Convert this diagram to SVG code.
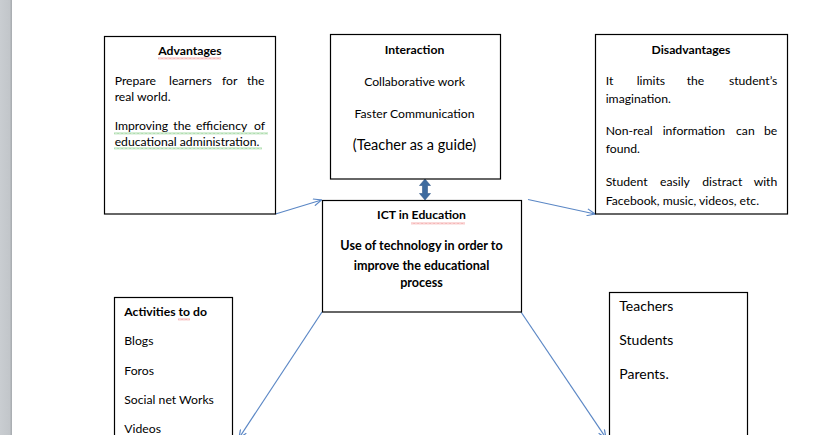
<svg xmlns="http://www.w3.org/2000/svg" width="828" height="435" viewBox="0 0 828 435">
<defs>
<style>
.box{fill:#fff;stroke:#000;stroke-width:1.2}
.t{font-family:Lato,"Liberation Sans",sans-serif;font-size:12.2px;fill:#000}
.b{font-weight:bold}
.c{text-anchor:middle}
.conn{stroke:#5b87c5;stroke-width:1.2;fill:none}
</style>
<linearGradient id="bar" x1="0" x2="1" y1="0" y2="0">
<stop offset="0" stop-color="#c9cdd1"/>
<stop offset="0.8" stop-color="#c2c6ca"/>
<stop offset="1" stop-color="#a4a8ac"/>
</linearGradient>
<marker id="ah" markerWidth="10" markerHeight="8" refX="9" refY="4" orient="auto" markerUnits="userSpaceOnUse">
<path d="M1,0.5 L9,4 L1,7.5" fill="none" stroke="#5b87c5" stroke-width="1.2"/>
</marker>
<pattern id="wr" width="4" height="3" patternUnits="userSpaceOnUse">
<path d="M0,2.5 L1,0.5 L2,2.5 L3,0.5 L4,2.5" fill="none" stroke="#e85050" stroke-width="0.6" stroke-dasharray="1 0.6"/>
</pattern>
<pattern id="wg" width="4" height="3" patternUnits="userSpaceOnUse">
<path d="M0,2.5 L1,0.5 L2,2.5 L3,0.5 L4,2.5" fill="none" stroke="#40ad40" stroke-width="0.6" stroke-dasharray="1 0.6"/>
</pattern>
</defs>
<rect width="828" height="435" fill="#fff"/>
<rect x="0" y="0" width="12" height="435" fill="url(#bar)"/>

<g id="connectors">
<line class="conn" x1="275.5" y1="214" x2="321.5" y2="200" marker-end="url(#ah)"/>
<line class="conn" x1="528" y1="199.5" x2="595" y2="214" marker-end="url(#ah)"/>
<line class="conn" x1="322" y1="312" x2="239" y2="438" marker-end="url(#ah)"/>
<line class="conn" x1="521" y1="312" x2="606" y2="438" marker-end="url(#ah)"/>
<path d="M425,179 L430.5,185.5 L427.5,185.5 L427.5,193.5 L430.5,193.5 L425,200 L419.5,193.5 L422.5,193.5 L422.5,185.5 L419.5,185.5 Z" fill="#3e6b9f" stroke="#34598a" stroke-width="0.6"/>
</g>

<g id="advantages">
<rect class="box" x="104.5" y="36.5" width="171" height="177.5"/>
<text class="t b c" x="190" y="55">Advantages</text>
<rect x="158" y="57" width="63" height="3" fill="url(#wr)"/>
<text class="t" y="85"><tspan x="114.7">Prepare</tspan><tspan x="169">learners</tspan><tspan x="222">for</tspan><tspan x="264.5" text-anchor="end">the</tspan></text>
<text class="t" x="114.7" y="101">real world.</text>
<text class="t" y="130"><tspan x="114.7">Improving</tspan><tspan x="173.3">the</tspan><tspan x="196">efficiency</tspan><tspan x="265" text-anchor="end">of</tspan></text>
<text class="t" x="114.7" y="146">educational administration.</text>
<rect x="114" y="132" width="154" height="3" fill="url(#wg)"/>
<rect x="114" y="147" width="148" height="3" fill="url(#wg)"/>
</g>

<g id="interaction">
<rect class="box" x="330.5" y="34.5" width="170" height="144.5"/>
<text class="t b c" x="414.5" y="54">Interaction</text>
<text class="t c" x="414.5" y="86">Collaborative work</text>
<text class="t c" x="414.5" y="118">Faster Communication</text>
<text class="t c" x="414.5" y="150" style="font-size:14.5px">(Teacher as a guide)</text>
</g>

<g id="ict">
<rect class="box" x="322.5" y="200.5" width="199" height="111.5"/>
<text class="t b c" x="421.5" y="219">ICT in Education</text>
<rect x="411" y="222" width="54" height="3" fill="url(#wr)"/>
<text class="t b c" x="421.5" y="250" style="font-size:12.6px">Use of technology in order to</text>
<text class="t b c" x="421.5" y="270" style="font-size:12.6px">improve the educational</text>
<text class="t b c" x="421.5" y="287" style="font-size:12.6px">process</text>
</g>

<g id="disadvantages">
<rect class="box" x="595.5" y="34.5" width="192" height="179.5"/>
<text class="t b c" x="691" y="53.5">Disadvantages</text>
<text class="t" y="85"><tspan x="605.7">It</tspan><tspan x="636.7">limits</tspan><tspan x="686.7">the</tspan><tspan x="777.3" text-anchor="end">student’s</tspan></text>
<text class="t" x="605.7" y="103">imagination.</text>
<text class="t" y="135"><tspan x="605.7">Non-real</tspan><tspan x="662.7">information</tspan><tspan x="736">can</tspan><tspan x="777.3" text-anchor="end">be</tspan></text>
<text class="t" x="605.7" y="153">found.</text>
<text class="t" y="186"><tspan x="605.7">Student</tspan><tspan x="660">easily</tspan><tspan x="702.3">distract</tspan><tspan x="777.3" text-anchor="end">with</tspan></text>
<text class="t" x="605.7" y="205">Facebook, music, videos, etc.</text>
</g>

<g id="activities">
<rect class="box" x="114.5" y="297.5" width="118" height="140"/>
<text class="t b" x="124.3" y="316">Activities to do</text>
<rect x="178" y="318" width="12" height="3" fill="url(#wr)"/>
<text class="t" x="124.3" y="345">Blogs</text>
<text class="t" x="124.3" y="375">Foros</text>
<text class="t" x="124.3" y="404">Social net Works</text>
<text class="t" x="124.3" y="433">Videos</text>
</g>

<g id="people">
<rect class="box" x="609.5" y="292.5" width="138" height="145"/>
<text class="t" x="619.3" y="311" style="font-size:14px">Teachers</text>
<text class="t" x="619.3" y="345" style="font-size:14px">Students</text>
<text class="t" x="619.3" y="379" style="font-size:14px">Parents.</text>
</g>
</svg>
